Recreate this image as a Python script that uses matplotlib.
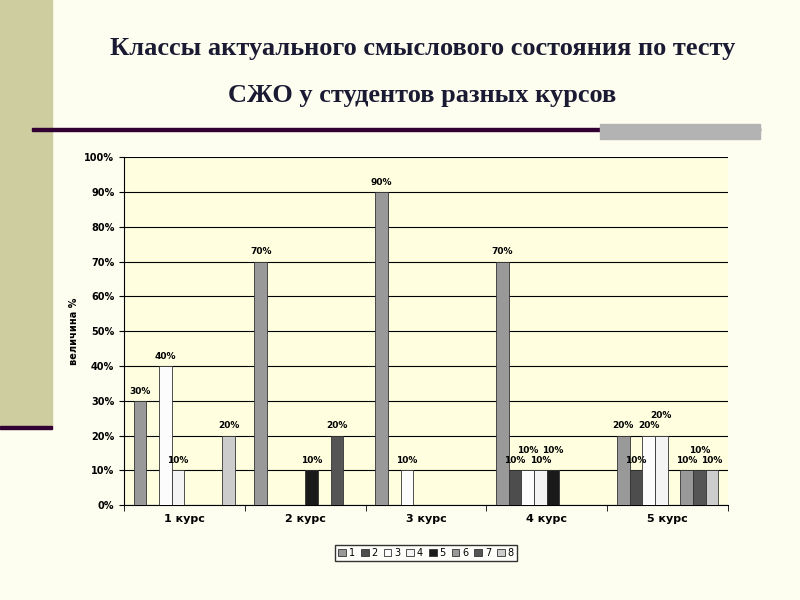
import numpy as np
import matplotlib.pyplot as plt
import matplotlib.patches as mpatches

courses = ['1 курс', '2 курс', '3 курс', '4 курс', '5 курс']
series_names = ['1', '2', '3', '4', '5', '6', '7', '8']
values = [
    [30, 70, 90, 70, 20],   # 1
    [0, 0, 0, 10, 10],      # 2
    [40, 0, 10, 10, 20],    # 3
    [10, 0, 0, 10, 20],     # 4
    [0, 10, 0, 10, 0],      # 5
    [0, 0, 0, 0, 10],       # 6
    [0, 20, 0, 0, 10],      # 7
    [20, 0, 0, 0, 10],      # 8
]
colors = ['#999999', '#4d4d4d', '#fcfcfc', '#f4f4f4', '#1a1a1a', '#999999', '#555555', '#cccccc']

fig = plt.figure(figsize=(8, 6), dpi=100)
fig.patch.set_facecolor('#fdfdf0')

# decorative strips
fig.add_artist(mpatches.Rectangle((0, 0.29), 0.065, 0.71, transform=fig.transFigure, color='#cdcd9f', zorder=0))
fig.add_artist(mpatches.Rectangle((0, 0.285), 0.065, 0.005, transform=fig.transFigure, color='#330033'))
fig.add_artist(mpatches.Rectangle((0.04, 0.782), 0.91, 0.004, transform=fig.transFigure, color='#330033'))
fig.add_artist(mpatches.Rectangle((0.75, 0.768), 0.2, 0.025, transform=fig.transFigure, color='#b3b3b3'))

fig.text(0.528, 0.908, 'Классы актуального смыслового состояния по тесту', ha='center',
         fontsize=19, fontweight='bold', family='Liberation Serif', color='#1a1a33')
fig.text(0.528, 0.83, 'СЖО у студентов разных курсов', ha='center',
         fontsize=19, fontweight='bold', family='Liberation Serif', color='#1a1a33')

ax = fig.add_axes([0.155, 0.158, 0.755, 0.58])
ax.set_facecolor('#ffffe0')
x = np.arange(len(courses))
w = 0.105
raised = np.zeros((len(values), len(courses)), dtype=bool)
for i, vals in enumerate(values):
    pos = x - 3.5 * w + i * w
    bars = ax.bar(pos, vals, w, color=colors[i], edgecolor='#333333', linewidth=0.6, label=series_names[i], zorder=3)
    for j, (b, v) in enumerate(zip(bars, vals)):
        if v > 0:
            if i > 0 and values[i - 1][j] == v and not raised[i - 1][j]:
                raised[i][j] = True
            y = v + 1.5 + (3 if raised[i][j] else 0)
            ax.text(b.get_x() + b.get_width() / 2, y, f'{v}%', ha='center', va='bottom',
                    fontsize=6.5, fontweight='bold', zorder=4)

ax.set_xlim(-0.5, 4.5)
ax.set_ylim(0, 100)
ax.set_yticks(range(0, 101, 10))
ax.set_yticklabels([f'{t}%' for t in range(0, 101, 10)], fontsize=7, fontweight='bold')
ax.set_xticks(x)
ax.set_xticklabels(courses, fontsize=8, fontweight='bold')
ax.set_xticks(np.arange(-0.5, 5, 1), minor=True)
ax.tick_params(axis='x', which='major', length=0, pad=6)
ax.tick_params(axis='x', which='minor', length=4)
ax.grid(axis='y', color='black', linewidth=0.8, zorder=0)
ax.spines['top'].set_visible(False)
ax.spines['right'].set_visible(False)
ax.set_ylabel('величина %', fontsize=7, fontweight='bold')

ax.legend(loc='upper center', bbox_to_anchor=(0.5, -0.1), ncol=8, fontsize=7, frameon=True,
          fancybox=False, edgecolor='black', handlelength=0.8, handletextpad=0.3, columnspacing=0.6,
          borderpad=0.3)

fig.savefig('out.png', facecolor=fig.get_facecolor())
